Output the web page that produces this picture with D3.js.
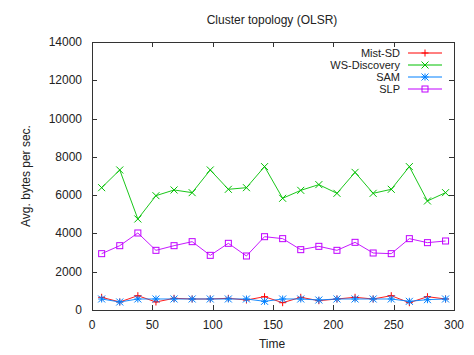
<!DOCTYPE html>
<html><head><meta charset="utf-8">
<script src="https://cdn.jsdelivr.net/npm/d3@7"></script>
<style>body{margin:0;background:#fff}svg{display:block}text{font-family:"Liberation Sans",Arial,sans-serif;fill:#222}</style>
</head><body><svg id="c" width="474" height="355"></svg>
<script>
const times = [8,23,38,53,68,83,98,113,128,143,158,173,188,203,218,233,248,263,278,293];
const mistSD = [663,418,747,418,611,575,575,611,522,695,381,663,486,575,663,575,747,381,695,575];
const wsDiscovery = [6390,7315,4755,5972,6270,6130,7315,6305,6390,7490,5835,6250,6550,6095,7190,6095,6305,7490,5695,6130];
const sam = [575,418,575,575,575,575,575,575,575,453,575,575,522,575,575,575,575,453,540,575];
const slp = [2943,3360,4023,3117,3360,3570,2855,3483,2821,3830,3727,3152,3326,3117,3535,2978,2943,3727,3518,3605];
const seriesNames = ["Mist-SD","WS-Discovery","SAM","SLP"];
const xTicks = [0,50,100,150,200,250,300];
const yTicks = [0,2000,4000,6000,8000,10000,12000,14000];

const colors = ["#ff0000","#00c000","#0080ff","#c000ff"];
const markers = ["plus","cross","star","square"];
const data = [mistSD, wsDiscovery, sam, slp];

const svg = d3.select("#c");
const L=92,R=454,T=42,B=310;
const x = d3.scaleLinear().domain([0,300]).range([L,R]);
const y = d3.scaleLinear().domain([0,14000]).range([B,T]);

svg.append("text").attr("x",272).attr("y",24).attr("text-anchor","middle").attr("font-size",12).text("Cluster topology (OLSR)");

const g = svg.append("g");
const tl=5;
xTicks.forEach(t=>{
  const px=Math.round(x(t))+0.5;
  if(t>0&&t<300){
    g.append("line").attr("x1",px).attr("x2",px).attr("y1",B).attr("y2",B-tl).attr("stroke","#333");
    g.append("line").attr("x1",px).attr("x2",px).attr("y1",T).attr("y2",T+tl).attr("stroke","#333");
  }
  g.append("text").attr("x",x(t)).attr("y",B+19).attr("text-anchor","middle").attr("font-size",12).text(t);
});
yTicks.forEach(t=>{
  const py=Math.round(y(t))+0.5;
  if(t>0&&t<14000){
    g.append("line").attr("x1",L).attr("x2",L+tl).attr("y1",py).attr("y2",py).attr("stroke","#333");
    g.append("line").attr("x1",R).attr("x2",R-tl).attr("y1",py).attr("y2",py).attr("stroke","#333");
  }
  g.append("text").attr("x",L-10).attr("y",y(t)+4).attr("text-anchor","end").attr("font-size",12).text(t);
});
g.append("rect").attr("x",L+0.5).attr("y",T+0.5).attr("width",R-L).attr("height",B-T).attr("fill","none").attr("stroke","#333");

svg.append("text").attr("x",272).attr("y",348).attr("text-anchor","middle").attr("font-size",12).text("Time");
svg.append("text").attr("transform","translate(30,176) rotate(-90)").attr("text-anchor","middle").attr("font-size",12).text("Avg. bytes per sec.");

function marker(sel,type,cx,cy,color){
  const s=3.5;
  if(type==="plus"||type==="star"){
    sel.append("line").attr("x1",cx-s).attr("x2",cx+s).attr("y1",cy).attr("y2",cy).attr("stroke",color);
    sel.append("line").attr("x1",cx).attr("x2",cx).attr("y1",cy-s).attr("y2",cy+s).attr("stroke",color);
  }
  if(type==="cross"||type==="star"){
    sel.append("line").attr("x1",cx-s).attr("x2",cx+s).attr("y1",cy-s).attr("y2",cy+s).attr("stroke",color);
    sel.append("line").attr("x1",cx-s).attr("x2",cx+s).attr("y1",cy+s).attr("y2",cy-s).attr("stroke",color);
  }
  if(type==="square"){
    sel.append("rect").attr("x",cx-3).attr("y",cy-3).attr("width",6).attr("height",6).attr("fill","none").attr("stroke",color);
  }
}

const line = d3.line().x((d,i)=>x(times[i])).y(d=>y(d));
data.forEach((vals,k)=>{
  const sg = svg.append("g");
  sg.append("path").datum(vals).attr("d",line).attr("fill","none").attr("stroke",colors[k]).attr("stroke-width",0.9);
  vals.forEach((v,i)=>marker(sg,markers[k],x(times[i]),y(v),colors[k]));
});

seriesNames.forEach((n,k)=>{
  const ly = 53 + k*12;
  svg.append("text").attr("x",400).attr("y",ly+4).attr("text-anchor","end").attr("font-size",11).attr("textLength",null).text(n);
  svg.append("line").attr("x1",408).attr("x2",442).attr("y1",ly).attr("y2",ly).attr("stroke",colors[k]);
  marker(svg,markers[k],425,ly,colors[k]);
});
</script></body></html>
